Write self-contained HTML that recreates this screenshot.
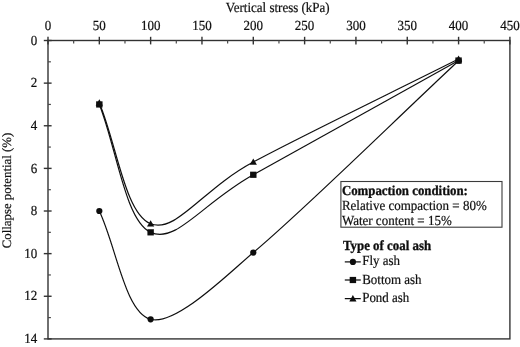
<!DOCTYPE html>
<html><head><meta charset="utf-8"><title>Collapse potential vs vertical stress</title>
<style>html,body{margin:0;padding:0;background:#fff}svg{display:block}text{font-family:"Liberation Serif","Times New Roman",serif;fill:#111;stroke:#111;stroke-width:0.2px;text-rendering:geometricPrecision}text[font-weight=bold]{stroke-width:0.3px}</style></head><body>
<svg width="520" height="347" viewBox="0 0 520 347">
<rect width="520" height="347" fill="#fff"/>
<defs><filter id="soft" x="0" y="0" width="520" height="347" filterUnits="userSpaceOnUse"><feGaussianBlur stdDeviation="0.3"/></filter></defs>
<g filter="url(#soft)">
<g stroke="#333333" stroke-width="1.4" fill="none">
<rect x="48.0" y="40.5" width="461.9" height="298.4"/>
<line x1="48.00" y1="36.8" x2="48.00" y2="44.4"/>
<line x1="73.66" y1="40.5" x2="73.66" y2="43.4" stroke="#4a4a4a" stroke-width="1.2"/>
<line x1="99.32" y1="36.8" x2="99.32" y2="44.4"/>
<line x1="124.98" y1="40.5" x2="124.98" y2="43.4" stroke="#4a4a4a" stroke-width="1.2"/>
<line x1="150.64" y1="36.8" x2="150.64" y2="44.4"/>
<line x1="176.31" y1="40.5" x2="176.31" y2="43.4" stroke="#4a4a4a" stroke-width="1.2"/>
<line x1="201.97" y1="36.8" x2="201.97" y2="44.4"/>
<line x1="227.63" y1="40.5" x2="227.63" y2="43.4" stroke="#4a4a4a" stroke-width="1.2"/>
<line x1="253.29" y1="36.8" x2="253.29" y2="44.4"/>
<line x1="278.95" y1="40.5" x2="278.95" y2="43.4" stroke="#4a4a4a" stroke-width="1.2"/>
<line x1="304.61" y1="36.8" x2="304.61" y2="44.4"/>
<line x1="330.27" y1="40.5" x2="330.27" y2="43.4" stroke="#4a4a4a" stroke-width="1.2"/>
<line x1="355.93" y1="36.8" x2="355.93" y2="44.4"/>
<line x1="381.59" y1="40.5" x2="381.59" y2="43.4" stroke="#4a4a4a" stroke-width="1.2"/>
<line x1="407.26" y1="36.8" x2="407.26" y2="44.4"/>
<line x1="432.92" y1="40.5" x2="432.92" y2="43.4" stroke="#4a4a4a" stroke-width="1.2"/>
<line x1="458.58" y1="36.8" x2="458.58" y2="44.4"/>
<line x1="484.24" y1="40.5" x2="484.24" y2="43.4" stroke="#4a4a4a" stroke-width="1.2"/>
<line x1="509.90" y1="36.8" x2="509.90" y2="44.4"/>
<line x1="43.8" y1="40.50" x2="51.6" y2="40.50"/>
<line x1="48.0" y1="61.81" x2="50.9" y2="61.81" stroke="#4a4a4a" stroke-width="1.2"/>
<line x1="43.8" y1="83.13" x2="51.6" y2="83.13"/>
<line x1="48.0" y1="104.44" x2="50.9" y2="104.44" stroke="#4a4a4a" stroke-width="1.2"/>
<line x1="43.8" y1="125.76" x2="51.6" y2="125.76"/>
<line x1="48.0" y1="147.07" x2="50.9" y2="147.07" stroke="#4a4a4a" stroke-width="1.2"/>
<line x1="43.8" y1="168.39" x2="51.6" y2="168.39"/>
<line x1="48.0" y1="189.70" x2="50.9" y2="189.70" stroke="#4a4a4a" stroke-width="1.2"/>
<line x1="43.8" y1="211.01" x2="51.6" y2="211.01"/>
<line x1="48.0" y1="232.33" x2="50.9" y2="232.33" stroke="#4a4a4a" stroke-width="1.2"/>
<line x1="43.8" y1="253.64" x2="51.6" y2="253.64"/>
<line x1="48.0" y1="274.96" x2="50.9" y2="274.96" stroke="#4a4a4a" stroke-width="1.2"/>
<line x1="43.8" y1="296.27" x2="51.6" y2="296.27"/>
<line x1="48.0" y1="317.59" x2="50.9" y2="317.59" stroke="#4a4a4a" stroke-width="1.2"/>
<line x1="43.8" y1="338.90" x2="51.6" y2="338.90"/>
</g>
<text transform="translate(48.00,29.50) scale(1,1.07)" font-size="13" text-anchor="middle">0</text>
<text transform="translate(99.32,29.50) scale(1,1.07)" font-size="13" text-anchor="middle">50</text>
<text transform="translate(150.64,29.50) scale(1,1.07)" font-size="13" text-anchor="middle">100</text>
<text transform="translate(201.97,29.50) scale(1,1.07)" font-size="13" text-anchor="middle">150</text>
<text transform="translate(253.29,29.50) scale(1,1.07)" font-size="13" text-anchor="middle">200</text>
<text transform="translate(304.61,29.50) scale(1,1.07)" font-size="13" text-anchor="middle">250</text>
<text transform="translate(355.93,29.50) scale(1,1.07)" font-size="13" text-anchor="middle">300</text>
<text transform="translate(407.26,29.50) scale(1,1.07)" font-size="13" text-anchor="middle">350</text>
<text transform="translate(458.58,29.50) scale(1,1.07)" font-size="13" text-anchor="middle">400</text>
<text transform="translate(509.90,29.50) scale(1,1.07)" font-size="13" text-anchor="middle">450</text>
<text transform="translate(37.20,44.70) scale(1,1.07)" font-size="13" text-anchor="end">0</text>
<text transform="translate(37.20,87.33) scale(1,1.07)" font-size="13" text-anchor="end">2</text>
<text transform="translate(37.20,129.96) scale(1,1.07)" font-size="13" text-anchor="end">4</text>
<text transform="translate(37.20,172.59) scale(1,1.07)" font-size="13" text-anchor="end">6</text>
<text transform="translate(37.20,215.21) scale(1,1.07)" font-size="13" text-anchor="end">8</text>
<text transform="translate(37.20,257.84) scale(1,1.07)" font-size="13" text-anchor="end">10</text>
<text transform="translate(37.20,300.47) scale(1,1.07)" font-size="13" text-anchor="end">12</text>
<text transform="translate(37.20,343.10) scale(1,1.07)" font-size="13" text-anchor="end">14</text>
<text transform="translate(277.75,11.90) scale(1,1.07)" font-size="12.99" text-anchor="middle">Vertical stress (kPa)</text>
<text transform="translate(10.7,248.3) rotate(-90)" font-size="12.85">Collapse potential (%)</text>
<g stroke="#111" stroke-width="1.2" fill="none">
<path d="M99.32,211.01 C116.43,247.11 124.98,312.36 150.64,319.29 C176.05,326.15 230.19,271.97 253.29,252.58 C304.61,209.49 390.15,124.69 458.58,60.75"/>
<path d="M99.32,104.44 C116.43,147.07 124.98,220.61 150.64,232.33 C176.31,244.05 201.97,203.41 253.29,174.78 C304.61,146.15 390.15,98.62 458.58,60.54"/>
<path d="M99.32,102.95 C116.43,143.23 124.98,213.96 150.64,223.80 C176.31,233.64 201.97,189.45 253.29,161.99 C304.61,134.53 390.15,93.36 458.58,59.04"/>
</g>
<g fill="#0a0a0a">
<circle cx="99.32" cy="211.01" r="3.1"/>
<circle cx="150.64" cy="319.29" r="3.1"/>
<circle cx="253.29" cy="252.58" r="3.1"/>
<circle cx="458.58" cy="60.75" r="3.1"/>
<path d="M99.32,99.35 L102.92,105.75 L95.72,105.75Z"/>
<path d="M150.64,220.20 L154.24,226.60 L147.04,226.60Z"/>
<path d="M253.29,158.39 L256.89,164.79 L249.69,164.79Z"/>
<path d="M458.58,55.44 L462.18,61.84 L454.98,61.84Z"/>
<rect x="96.12" y="101.34" width="6.4" height="6.2"/>
<rect x="147.44" y="229.23" width="6.4" height="6.2"/>
<rect x="250.09" y="171.68" width="6.4" height="6.2"/>
<rect x="455.38" y="57.44" width="6.4" height="6.2"/>
</g>
<rect x="340.9" y="181.5" width="161.1" height="45.7" fill="#fff" stroke="#3a3a3a" stroke-width="1.1"/>
<text transform="translate(341.90,195.00) scale(1,1.07)" font-size="12.85" font-weight="bold">Compaction condition:</text>
<text transform="translate(341.90,210.20) scale(1,1.07)" font-size="13.0">Relative compaction = 80%</text>
<text transform="translate(341.90,224.90) scale(1,1.07)" font-size="13.0">Water content = 15%</text>
<text transform="translate(342.90,249.50) scale(1,1.07)" font-size="12.9" font-weight="bold">Type of coal ash</text>
<line x1="344.8" y1="261.9" x2="360.8" y2="261.9" stroke="#111" stroke-width="1.25"/>
<g fill="#0a0a0a"><circle cx="352.90" cy="261.90" r="3.1"/></g>
<text transform="translate(362.20,265.00) scale(1,1.07)" font-size="12.95">Fly ash</text>
<line x1="344.8" y1="280" x2="360.8" y2="280" stroke="#111" stroke-width="1.25"/>
<g fill="#0a0a0a"><rect x="349.70" y="276.90" width="6.4" height="6.2"/></g>
<text transform="translate(362.20,283.50) scale(1,1.07)" font-size="12.95">Bottom ash</text>
<line x1="344.8" y1="298.6" x2="360.8" y2="298.6" stroke="#111" stroke-width="1.25"/>
<g fill="#0a0a0a"><path d="M352.90,295.00 L356.50,301.40 L349.30,301.40Z"/></g>
<text transform="translate(362.20,302.10) scale(1,1.07)" font-size="12.95">Pond ash</text>
</g>
</svg></body></html>
